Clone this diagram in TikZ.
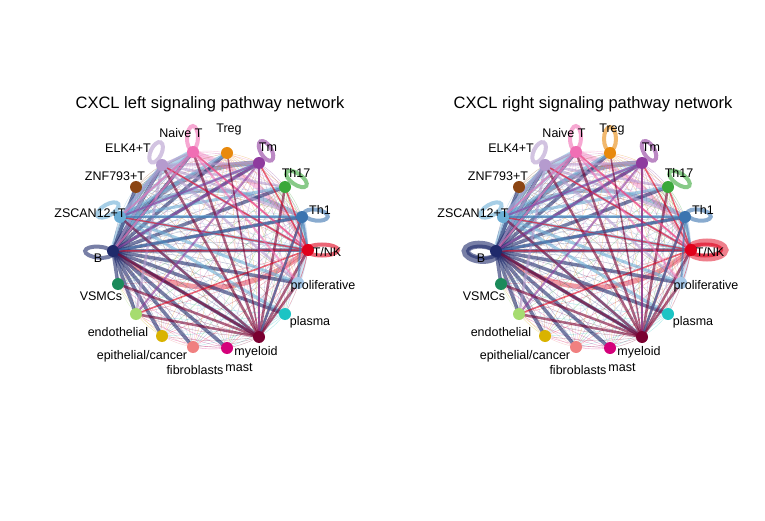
\documentclass[tikz,border=0pt]{standalone}
\usepackage{fontspec}
\setmainfont{Liberation Sans}
\usetikzlibrary{arrows.meta,calc}
\definecolor{col1}{HTML}{1F2A6B}
\definecolor{col2}{HTML}{6BAED6}
\definecolor{col3}{HTML}{8B4513}
\definecolor{col4}{HTML}{B59BCE}
\definecolor{col5}{HTML}{F06EB4}
\definecolor{col6}{HTML}{E8890C}
\definecolor{col7}{HTML}{8E3A9E}
\definecolor{col8}{HTML}{3AA83A}
\definecolor{col9}{HTML}{3B74B0}
\definecolor{col10}{HTML}{E0001B}
\definecolor{col11}{HTML}{A6C8E8}
\definecolor{col12}{HTML}{1CC4C4}
\definecolor{col13}{HTML}{7A0031}
\definecolor{col14}{HTML}{D4007A}
\definecolor{col15}{HTML}{F08080}
\definecolor{col16}{HTML}{D9B300}
\definecolor{col17}{HTML}{A6DC70}
\definecolor{col18}{HTML}{1B8A5A}
\newcommand\epitxt{epithelial/cancer}
\newcommand\tnktxt{T/NK}
\tikzset{
  dot/.style={circle,inner sep=0pt,minimum size=12pt},
  lbl/.style={font=\fontsize{12.5}{14}\selectfont,inner sep=0pt},
  ttl/.style={font=\fontsize{16.5}{19}\selectfont,inner sep=0pt},
  thin edge/.style={line width=0.4pt,opacity=0.35},
  thick edge/.style={opacity=0.6,-{Stealth[length=4pt]}},
  loopst/.style={line width=4pt,opacity=0.6}
}
\newcommand\mynet[3]{%
\begin{scope}[xshift=#2pt]
\node[ttl] (#1title) at (210,104) {#3};
\foreach \i/\x/\y in {
 1/113/251, 2/120/217, 3/136/187, 4/162/165, 5/193/152, 6/227/153,
 7/259/163, 8/285/187, 9/302/217, 10/308/250, 11/298/283, 12/285/314,
 13/259/337, 14/227/348, 15/193/347, 16/162/336, 17/136/314, 18/118/284}{
  \coordinate (#1n\i) at (\x,\y);
}
\draw[col2,line width=6pt,opacity=0.5] (#1n1) to[bend left=25] (#1n5);
\draw[col1,line width=5pt,opacity=0.45] (#1n1) to[bend left=30] (#1n7);
\draw[col9,line width=4pt,opacity=0.45] (#1n2) to[bend left=30] (#1n9);
\draw[col5,line width=5pt,opacity=0.4] (#1n5) to[bend left=20] (#1n10);
\draw[col10,line width=5pt,opacity=0.4] (#1n1) to[bend right=40] (#1n10);
\draw[col11,line width=5pt,opacity=0.5] (#1n9) to[bend left=15] (#1n11);
\foreach \i in {1,...,18}{\foreach \j in {1,...,18}{
  \ifnum\i<\j \draw[thin edge,col\i] (#1n\i) to[bend left=8] (#1n\j);\fi
}}
\foreach \j in {3,...,18}{\draw[thick edge,col1,line width=3.5pt] (#1n1) -- (#1n\j);}
\foreach \j in {4,...,13}{\draw[thick edge,col2,line width=3pt] (#1n2) -- (#1n\j);}
\foreach \j in {1,2,5,7,8,9,10,11,17}{\draw[thick edge,col4,line width=2.5pt] (#1n4) -- (#1n\j);}
\foreach \j in {1,2,4,5,7,8,9,10,11,17,18}{\draw[thick edge,col13,line width=2.5pt] (#1n13) -- (#1n\j);}
\foreach \j in {1,2,4,5,7,8,17}{\draw[thick edge,col10,line width=1.5pt] (#1n10) -- (#1n\j);}
\foreach \j in {1,2,10,11}{\draw[thick edge,col5,line width=2pt] (#1n5) -- (#1n\j);}
\foreach \j in {1,2,13,17}{\draw[thick edge,col7,line width=2pt] (#1n7) -- (#1n\j);}
\foreach \j in {1,2,10,11,13}{\draw[thick edge,col9,line width=2pt] (#1n9) -- (#1n\j);}
\draw[thick edge,col13,line width=1.5pt] (#1n6) -- (#1n13);
\end{scope}}
\newcommand\mydots[2]{%
\begin{scope}[xshift=#2pt]
\foreach \i in {1,...,18}{\node[dot,fill=col\i] (#1d\i) at (#1n\i) {};}
\foreach \i/\lx/\ly/\t in {
 1/98/258/B, 2/90/213/ZSCAN12+T, 3/115/176/ZNF793+T, 4/128/148/ELK4+T,
 5/181/133/Naive T, 6/229/129/Treg, 7/268/147/Tm, 8/296/173/Th17,
 9/320/210/Th1, 10/327/252/\tnktxt, 11/323/286/proliferative, 12/310/322/plasma,
 13/256/352/myeloid, 14/239/368/mast, 15/195/370/fibroblasts,
 16/142/356/\epitxt, 17/118/332/endothelial, 18/101/296/VSMCs}{
  \node[lbl] (#1t\i) at (\lx,\ly) {\t};
}
\end{scope}}
\begin{document}
\begin{tikzpicture}[x=1pt,y=-1pt]
\useasboundingbox (0,0) rectangle (765,521);
\fill[white] (0,0) rectangle (765,521);
\mynet{L}{0}{CXCL left signaling pathway network}
\mynet{R}{383}{CXCL right signaling pathway network}
\foreach \p in {L,R}{
\foreach \i/\a/\rx in {1/185/14,2/150/12,4/115/11,5/92/12,7/60/11,8/35/12,9/8/12,10/0/16}{
  \draw[loopst,col\i] ($(\p n\i)+(-\a:14)$) ellipse[x radius=\rx,y radius=5.5,rotate=-\a];
}}
\draw[loopst,col6] ($(Rn6)+(-90:14)$) ellipse[x radius=12,y radius=6,rotate=-90];
\draw[col1,line width=7pt,opacity=0.6] ($(Rn1)+(-185:15)$) ellipse[x radius=16,y radius=8,rotate=-185];
\draw[col10,line width=7pt,opacity=0.5] ($(Rn10)+(0:16)$) ellipse[x radius=18,y radius=8];
\mydots{L}{0}
\mydots{R}{383}
\end{tikzpicture}
\end{document}
